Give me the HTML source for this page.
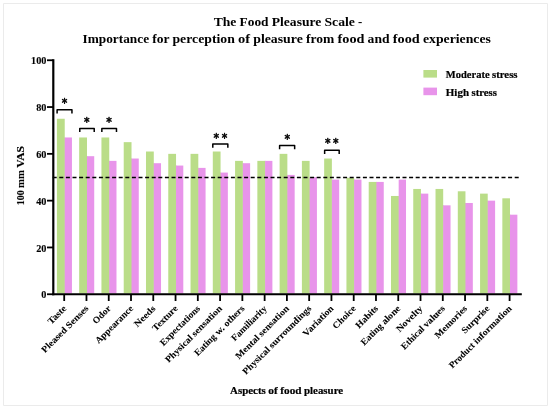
<!DOCTYPE html>
<html><head><meta charset="utf-8"><title>The Food Pleasure Scale</title>
<style>html,body{margin:0;padding:0;background:#fff;}svg{display:block;}</style></head>
<body>
<svg width="550" height="407" viewBox="0 0 550 407" font-family="'Liberation Serif', serif" font-weight="bold" fill="#000" stroke="#000" stroke-width="0.12" stroke-linejoin="round">
<rect x="0" y="0" width="550" height="407" fill="#fff" stroke="none"/>
<rect x="3.5" y="3.5" width="544" height="402" fill="none" stroke="#ebebeb" stroke-width="1"/>
<rect x="56.90" y="118.75" width="7.83" height="174.70" fill="#badd88" stroke="none"/>
<rect x="64.23" y="137.47" width="1" height="155.98" fill="#badd88" stroke="none"/>
<rect x="64.73" y="137.47" width="7.22" height="155.98" fill="#e894ea" stroke="none"/>
<rect x="79.17" y="137.47" width="7.82" height="155.98" fill="#badd88" stroke="none"/>
<rect x="86.49" y="156.19" width="1" height="137.26" fill="#badd88" stroke="none"/>
<rect x="86.99" y="156.19" width="7.23" height="137.26" fill="#e894ea" stroke="none"/>
<rect x="101.44" y="137.47" width="7.81" height="155.98" fill="#badd88" stroke="none"/>
<rect x="108.75" y="160.87" width="1" height="132.58" fill="#badd88" stroke="none"/>
<rect x="109.25" y="160.87" width="7.24" height="132.58" fill="#e894ea" stroke="none"/>
<rect x="123.72" y="142.15" width="7.80" height="151.30" fill="#badd88" stroke="none"/>
<rect x="131.02" y="158.53" width="1" height="134.92" fill="#badd88" stroke="none"/>
<rect x="131.52" y="158.53" width="7.25" height="134.92" fill="#e894ea" stroke="none"/>
<rect x="145.99" y="151.51" width="7.79" height="141.94" fill="#badd88" stroke="none"/>
<rect x="153.28" y="163.21" width="1" height="130.24" fill="#badd88" stroke="none"/>
<rect x="153.78" y="163.21" width="7.25" height="130.24" fill="#e894ea" stroke="none"/>
<rect x="168.26" y="153.85" width="7.78" height="139.60" fill="#badd88" stroke="none"/>
<rect x="175.54" y="165.55" width="1" height="127.90" fill="#badd88" stroke="none"/>
<rect x="176.04" y="165.55" width="7.26" height="127.90" fill="#e894ea" stroke="none"/>
<rect x="190.53" y="153.85" width="7.77" height="139.60" fill="#badd88" stroke="none"/>
<rect x="197.81" y="167.89" width="1" height="125.56" fill="#badd88" stroke="none"/>
<rect x="198.31" y="167.89" width="7.27" height="125.56" fill="#e894ea" stroke="none"/>
<rect x="212.80" y="151.51" width="7.76" height="141.94" fill="#badd88" stroke="none"/>
<rect x="220.07" y="172.57" width="1" height="120.88" fill="#badd88" stroke="none"/>
<rect x="220.57" y="172.57" width="7.28" height="120.88" fill="#e894ea" stroke="none"/>
<rect x="235.08" y="160.87" width="7.75" height="132.58" fill="#badd88" stroke="none"/>
<rect x="242.33" y="163.21" width="1" height="130.24" fill="#badd88" stroke="none"/>
<rect x="242.83" y="163.21" width="7.29" height="130.24" fill="#e894ea" stroke="none"/>
<rect x="257.35" y="160.87" width="7.74" height="132.58" fill="#badd88" stroke="none"/>
<rect x="264.59" y="160.87" width="1" height="132.58" fill="#badd88" stroke="none"/>
<rect x="265.09" y="160.87" width="7.30" height="132.58" fill="#e894ea" stroke="none"/>
<rect x="279.62" y="153.85" width="7.74" height="139.60" fill="#badd88" stroke="none"/>
<rect x="286.86" y="174.91" width="1" height="118.54" fill="#badd88" stroke="none"/>
<rect x="287.36" y="174.91" width="7.31" height="118.54" fill="#e894ea" stroke="none"/>
<rect x="301.89" y="160.87" width="7.73" height="132.58" fill="#badd88" stroke="none"/>
<rect x="309.12" y="177.25" width="1" height="116.20" fill="#badd88" stroke="none"/>
<rect x="309.62" y="177.25" width="7.31" height="116.20" fill="#e894ea" stroke="none"/>
<rect x="324.16" y="158.53" width="7.72" height="134.92" fill="#badd88" stroke="none"/>
<rect x="331.38" y="179.59" width="1" height="113.86" fill="#badd88" stroke="none"/>
<rect x="331.88" y="179.59" width="7.32" height="113.86" fill="#e894ea" stroke="none"/>
<rect x="346.44" y="177.84" width="7.71" height="115.61" fill="#badd88" stroke="none"/>
<rect x="353.64" y="179.59" width="1" height="113.86" fill="#badd88" stroke="none"/>
<rect x="354.14" y="179.59" width="7.33" height="113.86" fill="#e894ea" stroke="none"/>
<rect x="368.71" y="181.93" width="7.70" height="111.52" fill="#badd88" stroke="none"/>
<rect x="375.91" y="181.93" width="1" height="111.52" fill="#badd88" stroke="none"/>
<rect x="376.41" y="181.93" width="7.34" height="111.52" fill="#e894ea" stroke="none"/>
<rect x="390.98" y="195.97" width="7.69" height="97.48" fill="#badd88" stroke="none"/>
<rect x="398.17" y="195.97" width="1" height="97.48" fill="#badd88" stroke="none"/>
<rect x="398.67" y="179.59" width="7.35" height="113.86" fill="#e894ea" stroke="none"/>
<rect x="413.25" y="188.95" width="7.68" height="104.50" fill="#badd88" stroke="none"/>
<rect x="420.43" y="193.63" width="1" height="99.82" fill="#badd88" stroke="none"/>
<rect x="420.93" y="193.63" width="7.36" height="99.82" fill="#e894ea" stroke="none"/>
<rect x="435.52" y="188.95" width="7.67" height="104.50" fill="#badd88" stroke="none"/>
<rect x="442.69" y="205.33" width="1" height="88.12" fill="#badd88" stroke="none"/>
<rect x="443.19" y="205.33" width="7.36" height="88.12" fill="#e894ea" stroke="none"/>
<rect x="457.80" y="191.29" width="7.66" height="102.16" fill="#badd88" stroke="none"/>
<rect x="464.95" y="202.99" width="1" height="90.46" fill="#badd88" stroke="none"/>
<rect x="465.45" y="202.99" width="7.37" height="90.46" fill="#e894ea" stroke="none"/>
<rect x="480.07" y="193.63" width="7.65" height="99.82" fill="#badd88" stroke="none"/>
<rect x="487.22" y="200.65" width="1" height="92.80" fill="#badd88" stroke="none"/>
<rect x="487.72" y="200.65" width="7.38" height="92.80" fill="#e894ea" stroke="none"/>
<rect x="502.34" y="198.31" width="7.64" height="95.14" fill="#badd88" stroke="none"/>
<rect x="509.48" y="214.69" width="1" height="78.76" fill="#badd88" stroke="none"/>
<rect x="509.98" y="214.69" width="7.39" height="78.76" fill="#e894ea" stroke="none"/>
<line x1="52.7" y1="177.4" x2="518.8" y2="177.4" stroke="#000" stroke-width="1.5" stroke-dasharray="4 2.6"/>
<line x1="53.3" y1="59.2" x2="53.3" y2="295.25" stroke="#000" stroke-width="2.2"/>
<line x1="52.2" y1="294.25" x2="521.8" y2="294.25" stroke="#000" stroke-width="1.8"/>
<line x1="47.0" y1="294.25" x2="53.3" y2="294.25" stroke="#000" stroke-width="1.8"/>
<text x="46.4" y="298.40" font-size="10.4" text-anchor="end" textLength="5.12" lengthAdjust="spacingAndGlyphs">0</text>
<line x1="47.0" y1="247.45" x2="53.3" y2="247.45" stroke="#000" stroke-width="1.8"/>
<text x="46.4" y="251.60" font-size="10.4" text-anchor="end" textLength="10.25" lengthAdjust="spacingAndGlyphs">20</text>
<line x1="47.0" y1="200.65" x2="53.3" y2="200.65" stroke="#000" stroke-width="1.8"/>
<text x="46.4" y="204.80" font-size="10.4" text-anchor="end" textLength="10.25" lengthAdjust="spacingAndGlyphs">40</text>
<line x1="47.0" y1="153.85" x2="53.3" y2="153.85" stroke="#000" stroke-width="1.8"/>
<text x="46.4" y="158.00" font-size="10.4" text-anchor="end" textLength="10.25" lengthAdjust="spacingAndGlyphs">60</text>
<line x1="47.0" y1="107.05" x2="53.3" y2="107.05" stroke="#000" stroke-width="1.8"/>
<text x="46.4" y="111.20" font-size="10.4" text-anchor="end" textLength="10.25" lengthAdjust="spacingAndGlyphs">80</text>
<line x1="47.0" y1="60.25" x2="53.3" y2="60.25" stroke="#000" stroke-width="1.8"/>
<text x="46.4" y="64.40" font-size="10.4" text-anchor="end" textLength="15.38" lengthAdjust="spacingAndGlyphs">100</text>
<line x1="64.20" y1="294.25" x2="64.20" y2="301.0" stroke="#000" stroke-width="1.8"/>
<text transform="translate(66.90 309.05) rotate(-45)" stroke-width="0.08" y="0" font-size="9.15"><tspan x="-22.22" textLength="22.22" lengthAdjust="spacingAndGlyphs">Taste</tspan></text>
<line x1="86.47" y1="294.25" x2="86.47" y2="301.0" stroke="#000" stroke-width="1.8"/>
<text transform="translate(89.17 309.05) rotate(-45)" stroke-width="0.08" y="0" font-size="9.15"><tspan x="-62.35" textLength="31.81" lengthAdjust="spacingAndGlyphs">Pleased</tspan> <tspan x="-28.27" textLength="28.27" lengthAdjust="spacingAndGlyphs">Senses</tspan></text>
<line x1="108.74" y1="294.25" x2="108.74" y2="301.0" stroke="#000" stroke-width="1.8"/>
<text transform="translate(111.44 309.05) rotate(-45)" stroke-width="0.08" y="0" font-size="9.15"><tspan x="-21.72" textLength="21.72" lengthAdjust="spacingAndGlyphs">Odor</tspan></text>
<line x1="131.01" y1="294.25" x2="131.01" y2="301.0" stroke="#000" stroke-width="1.8"/>
<text transform="translate(133.71 309.05) rotate(-45)" stroke-width="0.08" y="0" font-size="9.15"><tspan x="-49.49" textLength="49.49" lengthAdjust="spacingAndGlyphs">Appearance</tspan></text>
<line x1="153.28" y1="294.25" x2="153.28" y2="301.0" stroke="#000" stroke-width="1.8"/>
<text transform="translate(155.98 309.05) rotate(-45)" stroke-width="0.08" y="0" font-size="9.15"><tspan x="-26.25" textLength="26.25" lengthAdjust="spacingAndGlyphs">Needs</tspan></text>
<line x1="175.55" y1="294.25" x2="175.55" y2="301.0" stroke="#000" stroke-width="1.8"/>
<text transform="translate(178.25 309.05) rotate(-45)" stroke-width="0.08" y="0" font-size="9.15"><tspan x="-31.82" textLength="31.81" lengthAdjust="spacingAndGlyphs">Texture</tspan></text>
<line x1="197.82" y1="294.25" x2="197.82" y2="301.0" stroke="#000" stroke-width="1.8"/>
<text transform="translate(200.52 309.05) rotate(-45)" stroke-width="0.08" y="0" font-size="9.15"><tspan x="-52.50" textLength="52.50" lengthAdjust="spacingAndGlyphs">Expectations</tspan></text>
<line x1="220.09" y1="294.25" x2="220.09" y2="301.0" stroke="#000" stroke-width="1.8"/>
<text transform="translate(222.79 309.05) rotate(-45)" stroke-width="0.08" y="0" font-size="9.15"><tspan x="-76.48" textLength="34.83" lengthAdjust="spacingAndGlyphs">Physical</tspan> <tspan x="-39.38" textLength="39.38" lengthAdjust="spacingAndGlyphs">sensation</tspan></text>
<line x1="242.36" y1="294.25" x2="242.36" y2="301.0" stroke="#000" stroke-width="1.8"/>
<text transform="translate(245.06 309.05) rotate(-45)" stroke-width="0.08" y="0" font-size="9.15"><tspan x="-66.90" textLength="26.76" lengthAdjust="spacingAndGlyphs">Eating</tspan> <tspan x="-37.87" textLength="9.84" lengthAdjust="spacingAndGlyphs">w.</tspan> <tspan x="-25.75" textLength="25.75" lengthAdjust="spacingAndGlyphs">others</tspan></text>
<line x1="264.63" y1="294.25" x2="264.63" y2="301.0" stroke="#000" stroke-width="1.8"/>
<text transform="translate(267.33 309.05) rotate(-45)" stroke-width="0.08" y="0" font-size="9.15"><tspan x="-45.95" textLength="45.95" lengthAdjust="spacingAndGlyphs">Familiarity</tspan></text>
<line x1="286.90" y1="294.25" x2="286.90" y2="301.0" stroke="#000" stroke-width="1.8"/>
<text transform="translate(289.60 309.05) rotate(-45)" stroke-width="0.08" y="0" font-size="9.15"><tspan x="-71.44" textLength="29.79" lengthAdjust="spacingAndGlyphs">Mental</tspan> <tspan x="-39.38" textLength="39.38" lengthAdjust="spacingAndGlyphs">sensation</tspan></text>
<line x1="309.17" y1="294.25" x2="309.17" y2="301.0" stroke="#000" stroke-width="1.8"/>
<text transform="translate(311.87 309.05) rotate(-45)" stroke-width="0.08" y="0" font-size="9.15"><tspan x="-93.15" textLength="34.83" lengthAdjust="spacingAndGlyphs">Physical</tspan> <tspan x="-56.05" textLength="56.05" lengthAdjust="spacingAndGlyphs">surroundings</tspan></text>
<line x1="331.44" y1="294.25" x2="331.44" y2="301.0" stroke="#000" stroke-width="1.8"/>
<text transform="translate(334.14 309.05) rotate(-45)" stroke-width="0.08" y="0" font-size="9.15"><tspan x="-39.39" textLength="39.39" lengthAdjust="spacingAndGlyphs">Variation</tspan></text>
<line x1="353.71" y1="294.25" x2="353.71" y2="301.0" stroke="#000" stroke-width="1.8"/>
<text transform="translate(356.41 309.05) rotate(-45)" stroke-width="0.08" y="0" font-size="9.15"><tspan x="-28.78" textLength="28.78" lengthAdjust="spacingAndGlyphs">Choice</tspan></text>
<line x1="375.98" y1="294.25" x2="375.98" y2="301.0" stroke="#000" stroke-width="1.8"/>
<text transform="translate(378.68 309.05) rotate(-45)" stroke-width="0.08" y="0" font-size="9.15"><tspan x="-27.76" textLength="27.76" lengthAdjust="spacingAndGlyphs">Habits</tspan></text>
<line x1="398.25" y1="294.25" x2="398.25" y2="301.0" stroke="#000" stroke-width="1.8"/>
<text transform="translate(400.95 309.05) rotate(-45)" stroke-width="0.08" y="0" font-size="9.15"><tspan x="-51.76" textLength="26.76" lengthAdjust="spacingAndGlyphs">Eating</tspan> <tspan x="-22.72" textLength="22.73" lengthAdjust="spacingAndGlyphs">alone</tspan></text>
<line x1="420.52" y1="294.25" x2="420.52" y2="301.0" stroke="#000" stroke-width="1.8"/>
<text transform="translate(423.22 309.05) rotate(-45)" stroke-width="0.08" y="0" font-size="9.15"><tspan x="-33.33" textLength="33.33" lengthAdjust="spacingAndGlyphs">Novelty</tspan></text>
<line x1="442.79" y1="294.25" x2="442.79" y2="301.0" stroke="#000" stroke-width="1.8"/>
<text transform="translate(445.49 309.05) rotate(-45)" stroke-width="0.08" y="0" font-size="9.15"><tspan x="-57.80" textLength="28.77" lengthAdjust="spacingAndGlyphs">Ethical</tspan> <tspan x="-26.76" textLength="26.76" lengthAdjust="spacingAndGlyphs">values</tspan></text>
<line x1="465.06" y1="294.25" x2="465.06" y2="301.0" stroke="#000" stroke-width="1.8"/>
<text transform="translate(467.76 309.05) rotate(-45)" stroke-width="0.08" y="0" font-size="9.15"><tspan x="-41.91" textLength="41.91" lengthAdjust="spacingAndGlyphs">Memories</tspan></text>
<line x1="487.33" y1="294.25" x2="487.33" y2="301.0" stroke="#000" stroke-width="1.8"/>
<text transform="translate(490.03 309.05) rotate(-45)" stroke-width="0.08" y="0" font-size="9.15"><tspan x="-35.34" textLength="35.34" lengthAdjust="spacingAndGlyphs">Surprise</tspan></text>
<line x1="509.60" y1="294.25" x2="509.60" y2="301.0" stroke="#000" stroke-width="1.8"/>
<text transform="translate(512.30 309.05) rotate(-45)" stroke-width="0.08" y="0" font-size="9.15"><tspan x="-84.58" textLength="32.31" lengthAdjust="spacingAndGlyphs">Product</tspan> <tspan x="-49.99" textLength="49.99" lengthAdjust="spacingAndGlyphs">information</tspan></text>
<path d="M57.10 113.40V109.70H71.95V113.40" fill="none" stroke="#000" stroke-width="1.5"/>
<text transform="translate(64.55 101.30) scale(0.86 0.9)" x="0" y="6.7" font-family="'DejaVu Sans', sans-serif" font-size="13" text-anchor="middle" font-weight="normal" stroke="#000" stroke-width="0.6">*</text>
<path d="M79.77 132.10V128.40H94.22V132.10" fill="none" stroke="#000" stroke-width="1.5"/>
<text transform="translate(86.82 119.75) scale(0.86 0.9)" x="0" y="6.7" font-family="'DejaVu Sans', sans-serif" font-size="13" text-anchor="middle" font-weight="normal" stroke="#000" stroke-width="0.6">*</text>
<path d="M101.84 132.10V128.40H116.49V132.10" fill="none" stroke="#000" stroke-width="1.5"/>
<text transform="translate(109.09 119.75) scale(0.86 0.9)" x="0" y="6.7" font-family="'DejaVu Sans', sans-serif" font-size="13" text-anchor="middle" font-weight="normal" stroke="#000" stroke-width="0.6">*</text>
<path d="M212.79 147.70V144.00H227.84V147.70" fill="none" stroke="#000" stroke-width="1.5"/>
<text transform="translate(216.39 135.50) scale(0.86 0.9)" x="0" y="6.7" font-family="'DejaVu Sans', sans-serif" font-size="13" text-anchor="middle" font-weight="normal" stroke="#000" stroke-width="0.6">*</text>
<text transform="translate(224.49 135.50) scale(0.86 0.9)" x="0" y="6.7" font-family="'DejaVu Sans', sans-serif" font-size="13" text-anchor="middle" font-weight="normal" stroke="#000" stroke-width="0.6">*</text>
<path d="M279.60 149.20V145.50H294.65V149.20" fill="none" stroke="#000" stroke-width="1.5"/>
<text transform="translate(287.25 136.60) scale(0.86 0.9)" x="0" y="6.7" font-family="'DejaVu Sans', sans-serif" font-size="13" text-anchor="middle" font-weight="normal" stroke="#000" stroke-width="0.6">*</text>
<path d="M324.64 154.00V150.30H339.19V154.00" fill="none" stroke="#000" stroke-width="1.5"/>
<text transform="translate(327.74 141.30) scale(0.86 0.9)" x="0" y="6.7" font-family="'DejaVu Sans', sans-serif" font-size="13" text-anchor="middle" font-weight="normal" stroke="#000" stroke-width="0.6">*</text>
<text transform="translate(335.84 141.30) scale(0.86 0.9)" x="0" y="6.7" font-family="'DejaVu Sans', sans-serif" font-size="13" text-anchor="middle" font-weight="normal" stroke="#000" stroke-width="0.6">*</text>
<text stroke-width="0" y="26.0" font-size="13.5"><tspan x="213.65" textLength="22.66" lengthAdjust="spacingAndGlyphs">The</tspan> <tspan x="239.50" textLength="29.05" lengthAdjust="spacingAndGlyphs">Food</tspan> <tspan x="271.74" textLength="49.56" lengthAdjust="spacingAndGlyphs">Pleasure</tspan> <tspan x="324.48" textLength="30.44" lengthAdjust="spacingAndGlyphs">Scale</tspan> <tspan x="358.10" textLength="4.24" lengthAdjust="spacingAndGlyphs">-</tspan></text>
<text stroke-width="0" y="43.2" font-size="13.5"><tspan x="82.50" textLength="66.59" lengthAdjust="spacingAndGlyphs">Importance</tspan> <tspan x="152.28" textLength="17.01" lengthAdjust="spacingAndGlyphs">for</tspan> <tspan x="172.47" textLength="62.33" lengthAdjust="spacingAndGlyphs">perception</tspan> <tspan x="237.99" textLength="12.05" lengthAdjust="spacingAndGlyphs">of</tspan> <tspan x="253.23" textLength="49.58" lengthAdjust="spacingAndGlyphs">pleasure</tspan> <tspan x="305.99" textLength="28.35" lengthAdjust="spacingAndGlyphs">from</tspan> <tspan x="337.53" textLength="26.93" lengthAdjust="spacingAndGlyphs">food</tspan> <tspan x="367.64" textLength="21.96" lengthAdjust="spacingAndGlyphs">and</tspan> <tspan x="392.79" textLength="26.93" lengthAdjust="spacingAndGlyphs">food</tspan> <tspan x="422.91" textLength="67.99" lengthAdjust="spacingAndGlyphs">experiences</tspan></text>
<text stroke-width="0.2" y="393.85" font-size="10.5"><tspan x="230.10" textLength="35.70" lengthAdjust="spacingAndGlyphs">Aspects</tspan> <tspan x="268.31" textLength="9.49" lengthAdjust="spacingAndGlyphs">of</tspan> <tspan x="280.32" textLength="21.22" lengthAdjust="spacingAndGlyphs">food</tspan> <tspan x="304.04" textLength="39.06" lengthAdjust="spacingAndGlyphs">pleasure</tspan></text>
<text transform="translate(24.1 175.7) rotate(-90)" y="0" font-size="10.4"><tspan x="-29.65" textLength="14.96" lengthAdjust="spacingAndGlyphs">100</tspan> <tspan x="-12.19" textLength="17.74" lengthAdjust="spacingAndGlyphs">mm</tspan> <tspan x="8.03" textLength="21.62" lengthAdjust="spacingAndGlyphs">VAS</tspan></text>
<rect x="423.4" y="70" width="13.6" height="7.6" fill="#badd88" stroke="none"/>
<rect x="423.4" y="87.6" width="13.6" height="7.6" fill="#e894ea" stroke="none"/>
<text stroke-width="0.2" y="77.9" font-size="10.5"><tspan x="445.80" textLength="43.75" lengthAdjust="spacingAndGlyphs">Moderate</tspan> <tspan x="492.04" textLength="25.46" lengthAdjust="spacingAndGlyphs">stress</tspan></text>
<text stroke-width="0.2" y="95.5" font-size="10.5"><tspan x="445.80" textLength="23.21" lengthAdjust="spacingAndGlyphs">High</tspan> <tspan x="471.49" textLength="25.41" lengthAdjust="spacingAndGlyphs">stress</tspan></text>
</svg>
</body></html>
